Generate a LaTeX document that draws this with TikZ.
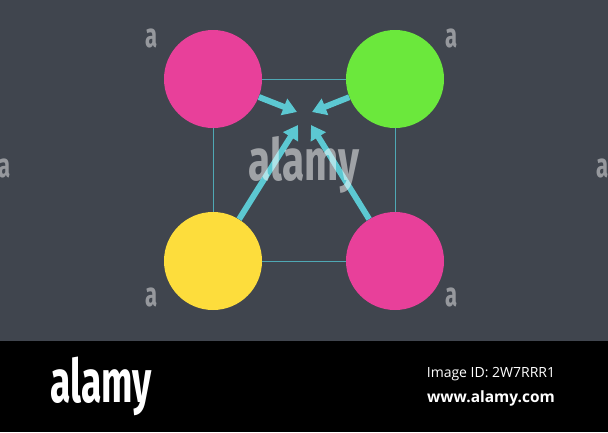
\documentclass[tikz,border=0pt]{standalone}
\usepackage{fontspec}
\setmainfont{Open Sans}
\newfontfamily\logofont{Fira Sans}
\usetikzlibrary{arrows.meta}
\definecolor{bgslate}{HTML}{40454E}
\definecolor{dotpink}{HTML}{E8409A}
\definecolor{dotgreen}{HTML}{6BE83C}
\definecolor{dotyellow}{HTML}{FDDD3C}
\definecolor{arrowcyan}{HTML}{5CC8D2}
\definecolor{edgeteal}{HTML}{4FA8B4}
\tikzset{
  dot/.style={circle,minimum size=98pt,inner sep=0pt},
  edge/.style={edgeteal,line width=1pt},
  pull/.style={arrowcyan,line width=6pt,-{Triangle[length=14pt,width=17pt]}},
  pullshadow/.style={black!80,opacity=0.7,line width=6pt,-{Triangle[length=14pt,width=17pt]}},
  wmark/.style={white,opacity=0.45,font=\logofont\bfseries}
}
\begin{document}
\begin{tikzpicture}[x=1pt,y=-1pt]
  \useasboundingbox (0,0) rectangle (608,432);
  \fill[bgslate] (0,0) rectangle (608,341);
  \fill[black] (0,341) rectangle (608,432);
  \node[dot,fill=dotpink] (tl) at (213,79) {};
  \node[dot,fill=dotgreen] (tr) at (395,79) {};
  \node[dot,fill=dotyellow] (bl) at (213,261) {};
  \node[dot,fill=dotpink] (br) at (395,261) {};
  \draw[edge] (tl) -- (tr);
  \draw[edge] (tr) -- (br);
  \draw[edge] (br) -- (bl);
  \draw[edge] (bl) -- (tl);
  \coordinate (tipA) at (297,112);
  \coordinate (tipB) at (312,112);
  \coordinate (tipC) at (298,125);
  \coordinate (tipD) at (311,125);
  % shadows
  \begin{scope}[shift={(3,4)}]
    \draw[pullshadow] (tl) -- (tipA);
    \draw[pullshadow] (tr) -- (tipB);
    \draw[pullshadow] (bl) -- (tipC);
    \draw[pullshadow] (br) -- (tipD);
  \end{scope}
  \draw[pull] (tl) -- (tipA);
  \draw[pull] (tr) -- (tipB);
  \draw[pull] (bl) -- (tipC);
  \draw[pull] (br) -- (tipD);
  % watermark
  \node[wmark,font=\logofont\bfseries\fontsize{58}{58}\selectfont,opacity=0.5] (markmid) at (304,165) {\scalebox{0.7}[1]{alamy}};
  \foreach \x/\y [count=\i] in {152/38,452/38,5/168,603/168,152/297,452/297}
    \node[wmark,font=\logofont\bfseries\fontsize{34}{34}\selectfont] (mark\i) at (\x,\y) {\scalebox{0.65}[1]{a}};
  \node[white,font=\logofont\bfseries\fontsize{60}{60}\selectfont] (logo) at (101,386) {\scalebox{0.62}[1]{alamy}};
  \node[white,font=\fontsize{14}{15}\selectfont] (imgid) at (491,374) {Image ID: 2W7RRR1};
  \node[white,font=\bfseries\fontsize{15.5}{16}\selectfont] (site) at (491,398) {www.alamy.com};
\end{tikzpicture}
\end{document}
